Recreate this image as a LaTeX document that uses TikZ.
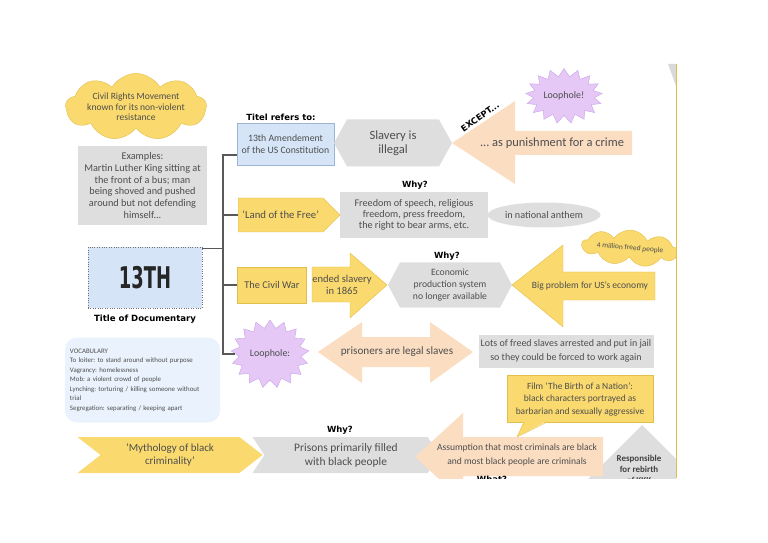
\documentclass[tikz,border=0pt]{standalone}
\usepackage{fontspec}
\setmainfont{Carlito}
\newfontfamily\headfont{DejaVu Sans}
\usetikzlibrary{shapes.symbols,shapes.geometric,positioning}
\frenchspacing

\definecolor{postyellow}{HTML}{FADA6E}
\definecolor{yellowline}{HTML}{E2BE4A}
\definecolor{postgray}{HTML}{DEDEDE}
\definecolor{postblue}{HTML}{D5E5F7}
\definecolor{blueline}{HTML}{9DB5D2}
\definecolor{postpeach}{HTML}{FBDDC2}
\definecolor{postpurple}{HTML}{E6C8F6}
\definecolor{purpleline}{HTML}{C8A2E6}
\definecolor{vocabblue}{HTML}{EAF3FD}
\definecolor{inktext}{HTML}{4E4E4E}

\begin{document}
\begin{tikzpicture}[
  x=1bp, y=-1bp,
  txt/.style={align=center, text=inktext, font=\fontsize{10}{11}\selectfont, inner sep=1bp},
  ybox/.style={txt, draw=yellowline, fill=postyellow},
  gbox/.style={txt, fill=postgray},
  bbox/.style={txt, draw=blueline, fill=postblue},
  why/.style={font=\headfont\bfseries\fontsize{8.5}{10}\selectfont, text=black},
  burst/.style={txt, starburst, starburst points=17, starburst point height=8bp, random starburst=0, draw=purpleline, fill=postpurple},
  puff/.style={txt, cloud, cloud puffs=9, cloud puff arc=120, cloud ignores aspect, draw=yellowline, fill=postyellow},
  hexa/.style={gbox, signal, signal to=west and east, signal pointer angle=122},
  tree/.style={draw=black!65, line width=1.4bp}
]
\useasboundingbox (0,0) rectangle (768,543);
\begin{scope}
\clip (60,62) rectangle (676,478);

% left column
\node[puff, minimum width=127bp, minimum height=64bp, font=\fontsize{9.6}{10.5}\selectfont] (civil) at (136,107) {Civil Rights Movement\\known for its non-violent\\resistance};
\node[gbox, minimum width=129bp, minimum height=79bp, font=\fontsize{10.3}{11.7}\selectfont] (examples) at (142.5,185.5) {Examples:\\Martin Luther King sitting at\\the front of a bus; man\\being shoved and pushed\\around but not defending\\himself...};
\node[bbox, draw=black!55, dotted, minimum width=114bp, minimum height=61bp, text=black!85, font=\headfont\bfseries\fontsize{30}{32}\selectfont] (doc) at (145,277.5) {\scalebox{0.6}[1]{13TH}};
\node[why, font=\headfont\bfseries\fontsize{8.6}{10}\selectfont, below=3bp of doc] (doclabel) {Title of Documentary};
\node[fill=vocabblue, rounded corners=12bp, text width=145bp, minimum height=85bp, inner sep=5bp, align=left, text=inktext, font=\fontsize{6.9}{9.5}\selectfont] (vocab) at (142.5,380) {VOCABULARY\\To loiter: to stand around without purpose\\Vagrancy: homelessness\\Mob: a violent crowd of people\\Lynching: torturing / killing someone without\\trial\\Segregation: separating / keeping apart};

% top row
\node[why] (titel) at (281,117) {Titel refers to:};
\node[bbox, minimum width=97bp, minimum height=42bp, font=\fontsize{9.8}{11.5}\selectfont] (amend) at (285.5,144) {13th Amendement\\of the US Constitution};
\node[hexa, minimum width=118bp, minimum height=47bp, font=\fontsize{12.6}{14.5}\selectfont] (illegal) at (393,143) {Slavery is\\illegal};
\path[fill=postpeach] (452,143) -- (515,101) -- (515,131) -- (632,131) -- (632,155) -- (515,155) -- (515,184) -- cycle;
\node[txt, font=\fontsize{12.5}{14}\selectfont] (punish) at (552,143) {... as punishment for a crime};
\node[why, rotate=35, inner sep=0pt] (except) at (480,117) {EXCEPT...};
\node[burst, minimum width=74bp, minimum height=55bp, font=\fontsize{10}{11}\selectfont] (loophole1) at (564,96) {Loophole!};

% second row
\node[why] (why1) at (415,185) {Why?};
\node[ybox, signal, signal to=east, anchor=west, minimum width=102bp, minimum height=34bp, font=\fontsize{10.8}{12}\selectfont] (landfree) at (238,215) {`Land of the Free'};
\node[gbox, minimum width=148bp, minimum height=46bp, font=\fontsize{10.2}{11}\selectfont] (freedoms) at (414,215) {Freedom of speech, religious\\freedom, press freedom,\\the right to bear arms, etc.};
\node[gbox, ellipse, minimum width=98bp, minimum height=25bp, font=\fontsize{10.2}{11}\selectfont] (anthem) at (544,215) {in national anthem};

% third row
\node[why] (why2) at (447,256) {Why?};
\node[ybox, minimum width=69bp, minimum height=36bp, font=\fontsize{10.4}{12}\selectfont] (civwar) at (272,285) {The Civil War};
\path[fill=postyellow, draw=yellowline] (312,267) -- (350,267) -- (350,253) -- (387,285) -- (350,318) -- (350,302) -- (312,302) -- cycle;
\node[txt, font=\fontsize{10.6}{12}\selectfont] (ended) at (342,285) {ended slavery\\in 1865};
\node[hexa, signal pointer angle=124, minimum width=124bp, minimum height=45bp, font=\fontsize{9.7}{12}\selectfont] (economic) at (450,285) {Economic\\production system\\no longer available};
\path[fill=postyellow, draw=yellowline] (512,285) -- (563,245) -- (563,272) -- (655,272) -- (655,300) -- (563,300) -- (563,327) -- cycle;
\node[txt, font=\fontsize{9.6}{11}\selectfont] (bigproblem) at (590,286) {Big problem for US's economy};
\node[puff, rotate=-5, minimum width=96bp, minimum height=36bp, font=\fontsize{7.5}{8}\selectfont] (million) at (630,248) {4 million freed people};

% fourth row
\node[burst, minimum width=78bp, minimum height=68bp, font=\fontsize{10}{11}\selectfont] (loophole2) at (270,354) {Loophole:};
\path[fill=postpeach] (318,352) -- (362,322) -- (362,337) -- (430,337) -- (430,322) -- (473,352) -- (430,383) -- (430,367) -- (362,367) -- (362,383) -- cycle;
\node[txt, font=\fontsize{11.2}{12}\selectfont] (legal) at (397,352) {prisoners are legal slaves};
\node[gbox, minimum width=175bp, minimum height=33bp, font=\fontsize{10}{13.5}\selectfont] (arrested) at (566,351) {Lots of freed slaves arrested and put in jail\\so they could be forced to work again};
\node[ybox, minimum width=146bp, minimum height=47bp, font=\fontsize{9.5}{12.5}\selectfont] (film) at (580,399) {Film `The Birth of a Nation':\\black characters portrayed as\\barbarian and sexually aggressive};
\path[fill=postyellow] ([xshift=17bp,yshift=1bp]film.south west) -- (517,437) -- ([xshift=39bp,yshift=1bp]film.south west) -- cycle;
\draw[yellowline] ([xshift=17bp]film.south west) -- (517,437) -- ([xshift=39bp]film.south west);
\path[fill=postgray] (642,425) -- (585,482) -- (699,482) -- cycle;
\node[txt, text=black!75, font=\bfseries\fontsize{9}{11}\selectfont] (kkk) at (639,469) {Responsible\\for rebirth\\of KKK};

% bottom row
\node[why] (why3) at (340,430) {Why?};
\node[ybox, draw=none, signal, signal from=west, signal to=east, signal pointer angle=76, minimum width=185bp, minimum height=36bp, font=\fontsize{11}{12.5}\selectfont] (myth) at (170,455) {`Mythology of black\\criminality'};
\node[gbox, signal, signal from=west, signal to=east, signal pointer angle=113, minimum width=187bp, minimum height=36bp, font=\fontsize{11.5}{14}\selectfont] (prisons) at (346,455) {Prisons primarily filled\\with black people};
\path[fill=postpeach] (415,457) -- (463,413) -- (463,437) -- (603,437) -- (603,476) -- (463,476) -- (463,501) -- cycle;
\node[txt, font=\fontsize{9.6}{14}\selectfont] (assumption) at (517,455) {Assumption that most criminals are black\\and most black people are criminals};
\node[why] (what) at (492,479) {What?};

% tree
\draw[tree] ([yshift=-11bp]amend.west) -- ++(-14,0) coordinate (ttop) |- (loophole2.west);
\draw[tree] (landfree.west) -- (landfree.west -| ttop);
\draw[tree] (civwar.west) -- (civwar.west -| ttop);
\draw[tree] ([yshift=-2bp]doc.north east) -- ([yshift=-2bp]doc.north east -| ttop);
\end{scope}

% page edge
\path[fill=black!15] (668,64) -- (676,64) -- (676,86) -- cycle;
\draw[yellowline, line width=1bp] (676,64) -- (676,478);
\end{tikzpicture}
\end{document}
